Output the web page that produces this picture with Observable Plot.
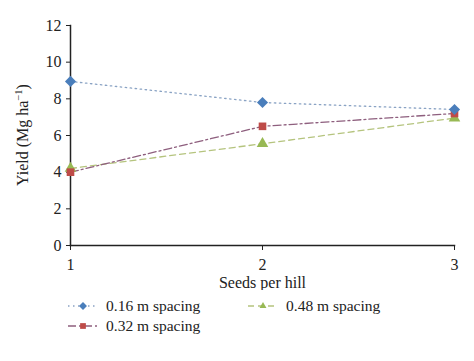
<!DOCTYPE html>
<html>
<head>
<meta charset="utf-8">
<script src="https://cdn.jsdelivr.net/npm/d3@7"></script>
<script src="https://cdn.jsdelivr.net/npm/@observablehq/plot@0.6"></script>
<style>
  html, body { margin: 0; padding: 0; background: #fff; }
  body { width: 474px; height: 361px; overflow: hidden; font-family: "Liberation Serif", "DejaVu Serif", serif; }
  #legend { position: relative; height: 71px; font-size: 15.5px; color: #222; }
  .item { position: absolute; display: flex; align-items: center; height: 18px; }
  .item svg { margin-right: 8px; }
</style>
</head>
<body>
<div id="chart"></div>
<div id="legend"></div>
<script>
const seeds = [1, 2, 3];
const seriesNames = ["0.16 m spacing", "0.32 m spacing", "0.48 m spacing"];
const yield016 = [8.95, 7.8, 7.42];
const yield032 = [4.0, 6.5, 7.2];
const yield048 = [4.2, 5.55, 6.95];
const yTicks = [0, 2, 4, 6, 8, 10, 12];
const xTicks = [1, 2, 3];

const lineColors = ["#8aa3c4", "#8e5f7e", "#b5c47e"];
const markColors = ["#4a7ebb", "#be4b48", "#98b954"];
const symbols = ["diamond2", "square", "triangle"];
const dashes = ["1.5,3.5", "8,3,2,3", "6,4"];
const allValues = [yield016, yield032, yield048];

const rows = [];
allValues.forEach((vals, i) => vals.forEach((v, j) => rows.push({series: seriesNames[i], x: seeds[j], y: v, i})));

const marks = [];
[2, 1, 0].forEach(i => {
  const d = rows.filter(r => r.i === i);
  marks.push(Plot.line(d, {x: "x", y: "y", stroke: lineColors[i], strokeWidth: 1.3, strokeDasharray: dashes[i]}));
});
[2, 1, 0].forEach(i => {
  const d = rows.filter(r => r.i === i);
  marks.push(Plot.dot(d, {x: "x", y: "y", fill: markColors[i], stroke: "none", symbol: () => symbols[i], r: i === 0 ? 5 : 4.3}));
});

const chart = Plot.plot({
  width: 474,
  height: 290,
  marginLeft: 70,
  marginRight: 20,
  marginTop: 25,
  marginBottom: 45,
  style: {fontFamily: "Liberation Serif, DejaVu Serif, serif", fontSize: "16px", color: "#222", background: "#fff"},
  x: {domain: [1, 3]},
  y: {domain: [0, 12]},
  marks: [
    Plot.axisY({ticks: yTicks, tickSize: 4, tickPadding: 5, tickFormat: d => String(d), fontSize: 16,
      label: null}),
    Plot.axisX({ticks: xTicks, tickSize: 5, tickPadding: 8, tickFormat: d => String(d), fontSize: 16,
      label: "Seeds per hill", labelAnchor: "center", labelArrow: "none", labelOffset: 42}),
    Plot.frame({anchor: "left", stroke: "#222", strokeWidth: 1.5, strokeOpacity: 1}),
    Plot.frame({anchor: "bottom", stroke: "#222", strokeWidth: 1.5, strokeOpacity: 1}),
    ...marks
  ]
});
document.getElementById("chart").appendChild(chart);

// rotated y label with superscript
const svg = d3.select(chart);
const t = svg.append("text")
  .attr("transform", "translate(28,135) rotate(-90)")
  .attr("text-anchor", "middle")
  .attr("font-size", 16)
  .attr("fill", "#222");
t.append("tspan").text("Yield (Mg ha");
t.append("tspan").attr("font-size", 10.5).attr("dy", -6).text("−1");
t.append("tspan").attr("dy", 6).text(")");

// legend
const legend = document.getElementById("legend");
const positions = [[68, 16], [68, 36], [248, 16]];
const symPaths = {
  diamond2: d3.symbol(d3.symbolDiamond2, 40)(),
  square: d3.symbol(d3.symbolSquare2, 42)(),
  triangle: d3.symbol(d3.symbolTriangle2, 34)()
};
seriesNames.forEach((name, i) => {
  const div = document.createElement("div");
  div.className = "item";
  div.style.left = positions[i][0] + "px";
  div.style.top = (positions[i][1] - 9) + "px";
  div.innerHTML = `<svg width="30" height="14"><line x1="0" x2="30" y1="7" y2="7" stroke="${lineColors[i]}" stroke-width="1.3" stroke-dasharray="${dashes[i]}"/><path transform="translate(15,7)" d="${symPaths[symbols[i]]}" fill="${markColors[i]}"/></svg><span>${name}</span>`;
  legend.appendChild(div);
});
</script>
</body>
</html>
